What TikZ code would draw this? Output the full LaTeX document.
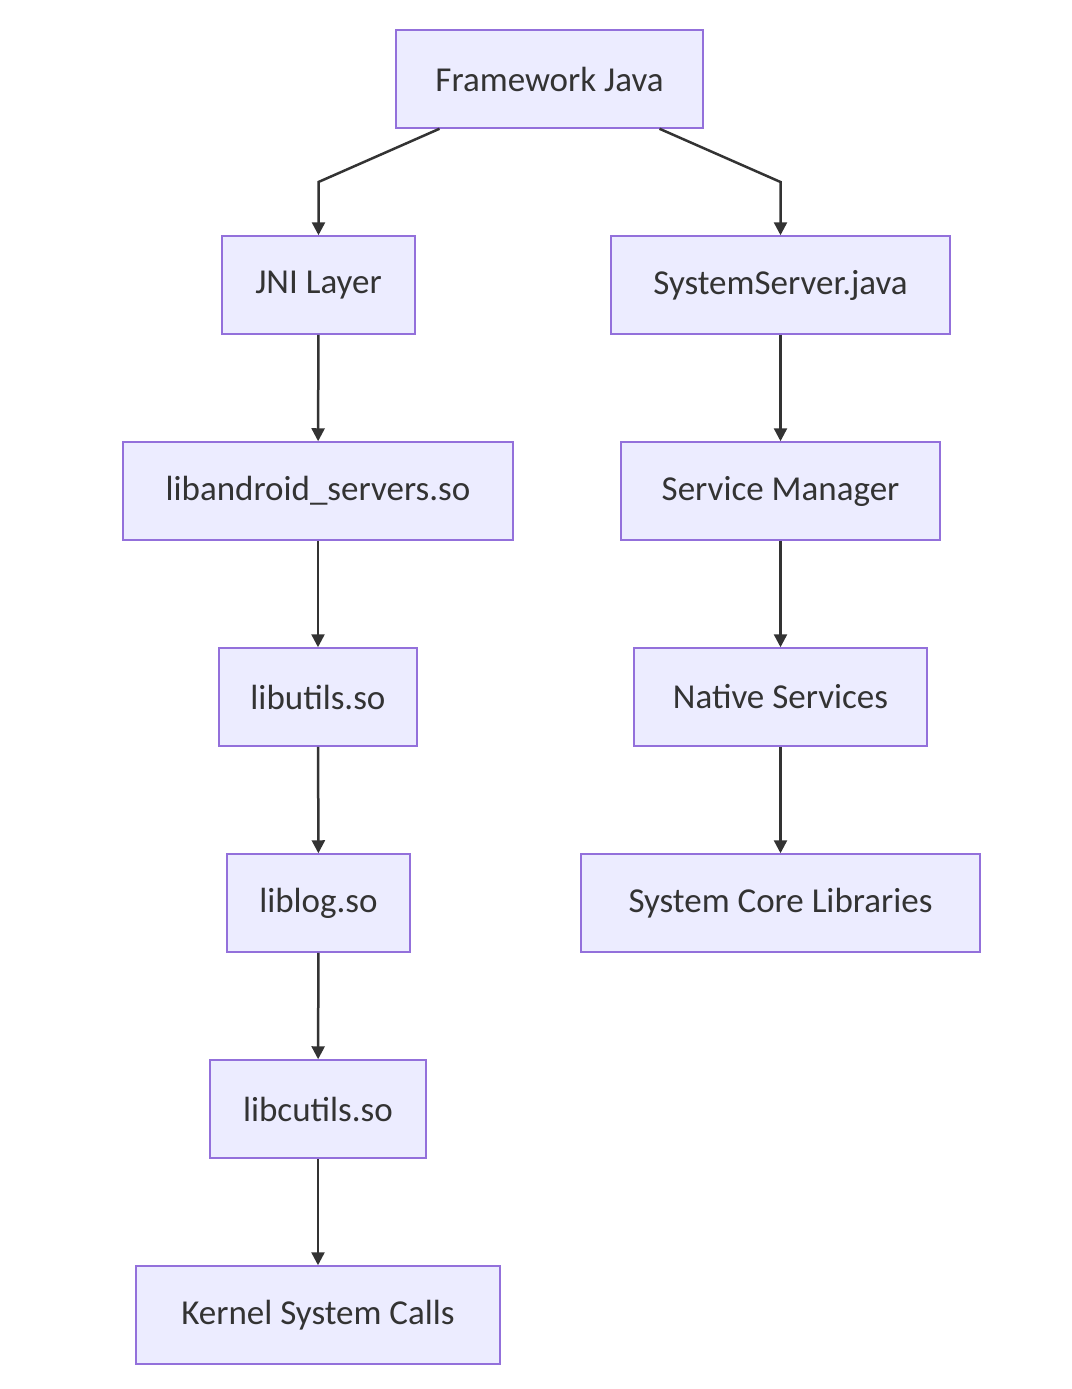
\documentclass[tikz,border=0pt]{standalone}
\usepackage{fontspec}
\setmainfont{Carlito}
\usetikzlibrary{arrows.meta}
\definecolor{boxfill}{HTML}{ECECFF}
\definecolor{boxdraw}{HTML}{9370DB}
\definecolor{edge}{HTML}{333333}
\begin{document}
\begin{tikzpicture}[x=1pt,y=-1pt,
  box/.style={draw=boxdraw,fill=boxfill,line width=1.5pt,minimum height=98pt,inner sep=0pt,text=edge,font=\fontsize{35}{40}\selectfont},
  arr/.style={draw=edge,line width=2.5pt,-{Triangle[length=13pt,width=13pt]}}]
\useasboundingbox (0,0) rectangle (1071,1389);
\node[box,minimum width=307pt] (fw) at (549.5,79) {Framework Java};
\node[box,minimum width=193pt] (jni) at (318.5,285) {JNI Layer};
\node[box,minimum width=339pt] (ss) at (780.5,285) {SystemServer.java};
\node[box,minimum width=390pt] (las) at (318,491) {libandroid\_servers.so};
\node[box,minimum width=319pt] (sm) at (780.5,491) {Service Manager};
\node[box,minimum width=198pt] (lu) at (318,697) {libutils.so};
\node[box,minimum width=293pt] (ns) at (780.5,697) {Native Services};
\node[box,minimum width=183pt] (ll) at (318.5,903) {liblog.so};
\node[box,minimum width=399pt] (scl) at (780.5,903) {System Core Libraries};
\node[box,minimum width=216pt] (lc) at (318,1109) {libcutils.so};
\node[box,minimum width=364pt] (ksc) at (318,1315) {Kernel System Calls};
\coordinate (b1) at (318.5,182);
\coordinate (b2) at (780.5,182);
\draw[arr] ([xshift=-110pt]fw.south) -- (b1) -- (jni.north);
\draw[arr] ([xshift=110pt]fw.south) -- (b2) -- (ss.north);
\draw[arr] (jni) -- (las);
\draw[arr] (las) -- (lu);
\draw[arr] (lu) -- (ll);
\draw[arr] (ll) -- (lc);
\draw[arr] (lc) -- (ksc);
\draw[arr] (ss) -- (sm);
\draw[arr] (sm) -- (ns);
\draw[arr] (ns) -- (scl);
\end{tikzpicture}
\end{document}
